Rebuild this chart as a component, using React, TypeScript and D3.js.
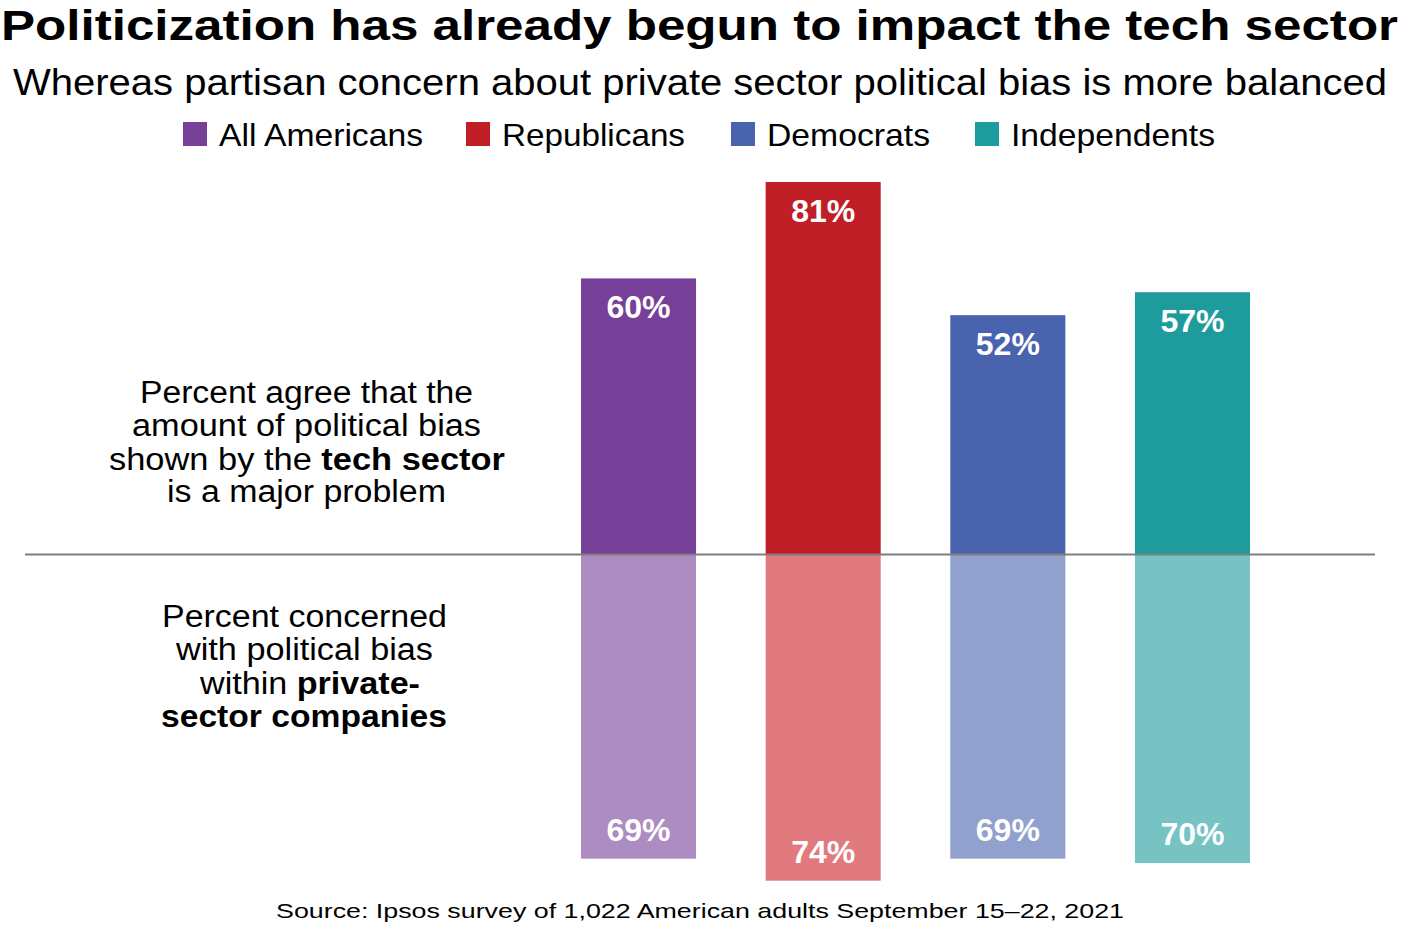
import { useEffect } from "react";
import * as d3 from "d3";

// Groups, series values and labels
const groups = ["All Americans", "Republicans", "Democrats", "Independents"];
const techSector = [60, 81, 52, 57];
const privateSector = [69, 74, 69, 70];
const darkColors = ["#763F98", "#C01F28", "#4A63AE", "#1E9C9D"];
const lightColors = ["#AD8CC2", "#E07A7E", "#91A1CE", "#77C3C4"];

const title = "Politicization has already begun to impact the tech sector";
const subtitle =
	"Whereas partisan concern about private sector political bias is more balanced";
const source = "Source: Ipsos survey of 1,022 American adults September 15\u201322, 2021";

const W = 1401;
const H = 927;
const FONT = "'Liberation Sans', Arial, Helvetica, sans-serif";

// legend positions (square x, text width)
const legendX = [183, 466, 731, 975];
const legendW = [204, 183, 163, 204];

const App = () => {
	useEffect(() => {
		document.body.style.margin = "0";
	}, []);

	// Echelles
	const x = d3
		.scaleBand<string>()
		.domain(groups)
		.range([581, 1250])
		.paddingInner(0.377)
		.paddingOuter(0);
	const baseY = 554;
	const yTop = d3.scaleLinear().domain([0, 100]).range([baseY, baseY - 459.3]);
	const yBottom = d3.scaleLinear().domain([0, 100]).range([baseY, baseY + 441.5]);

	// Une ligne de libellé à gauche, étirée à la largeur lue
	const labelLine = (
		key: string,
		left: number,
		width: number,
		y: number,
		content: React.ReactNode
	) => (
		<text
			key={key}
			x={left}
			y={y}
			textLength={width}
			lengthAdjust="spacingAndGlyphs"
		>
			{content}
		</text>
	);

	return (
		<svg
			width={W}
			height={H}
			viewBox={`0 0 ${W} ${H}`}
			style={{ display: "block", background: "#fff", fontFamily: FONT }}
		>
			{/* Titre */}
			<text
				x={1}
				y={40}
				fontSize={42}
				fontWeight="bold"
				fill="#000"
				textLength={1397}
				lengthAdjust="spacingAndGlyphs"
			>
				{title}
			</text>
			<text
				x={13}
				y={95}
				fontSize={36}
				fill="#000"
				textLength={1374}
				lengthAdjust="spacingAndGlyphs"
			>
				{subtitle}
			</text>

			{/* Légende */}
			{groups.map((g, i) => (
				<g key={g}>
					<rect x={legendX[i]} y={122} width={24} height={24} fill={darkColors[i]} />
					<text
						x={legendX[i] + 36}
						y={146}
						fontSize={32}
						fill="#000"
						textLength={legendW[i]}
						lengthAdjust="spacingAndGlyphs"
					>
						{g}
					</text>
				</g>
			))}

			{/* Barres du haut */}
			{groups.map((g, i) => (
				<g key={`top-${g}`}>
					<rect
						x={x(g)}
						y={yTop(techSector[i])}
						width={x.bandwidth()}
						height={baseY - yTop(techSector[i])}
						fill={darkColors[i]}
					/>
					<text
						x={(x(g) ?? 0) + x.bandwidth() / 2}
						y={yTop(techSector[i]) + 40}
						textAnchor="middle"
						fontSize={32}
						fontWeight="bold"
						fill="#fff"
					>
						{`${techSector[i]}%`}
					</text>
				</g>
			))}

			{/* Barres du bas */}
			{groups.map((g, i) => (
				<g key={`bottom-${g}`}>
					<rect
						x={x(g)}
						y={baseY}
						width={x.bandwidth()}
						height={yBottom(privateSector[i]) - baseY}
						fill={lightColors[i]}
					/>
					<text
						x={(x(g) ?? 0) + x.bandwidth() / 2}
						y={yBottom(privateSector[i]) - 18}
						textAnchor="middle"
						fontSize={32}
						fontWeight="bold"
						fill="#fff"
					>
						{`${privateSector[i]}%`}
					</text>
				</g>
			))}

			{/* Ligne de base */}
			<line x1={25} x2={1375} y1={baseY + 0.5} y2={baseY + 0.5} stroke="#7f7f7f" strokeWidth={2} />

			{/* Libellés de gauche */}
			<g fontSize={31} fill="#000">
				{labelLine("a1", 140, 333, 403, "Percent agree that the")}
				{labelLine("a2", 132, 349, 436, "amount of political bias")}
				{labelLine(
					"a3",
					109,
					396,
					470,
					<>
						shown by the <tspan fontWeight="bold">tech sector</tspan>
					</>
				)}
				{labelLine("a4", 167, 279, 502, "is a major problem")}

				{labelLine("b1", 162, 285, 627, "Percent concerned")}
				{labelLine("b2", 176, 257, 660, "with political bias")}
				{labelLine(
					"b3",
					200,
					220,
					694,
					<>
						within <tspan fontWeight="bold">private-</tspan>
					</>
				)}
				{labelLine(
					"b4",
					161,
					286,
					727,
					<tspan fontWeight="bold">sector companies</tspan>
				)}
			</g>

			{/* Source */}
			<text
				x={276}
				y={918}
				fontSize={21}
				fill="#000"
				textLength={848}
				lengthAdjust="spacingAndGlyphs"
			>
				{source}
			</text>
		</svg>
	);
};

export default App;
